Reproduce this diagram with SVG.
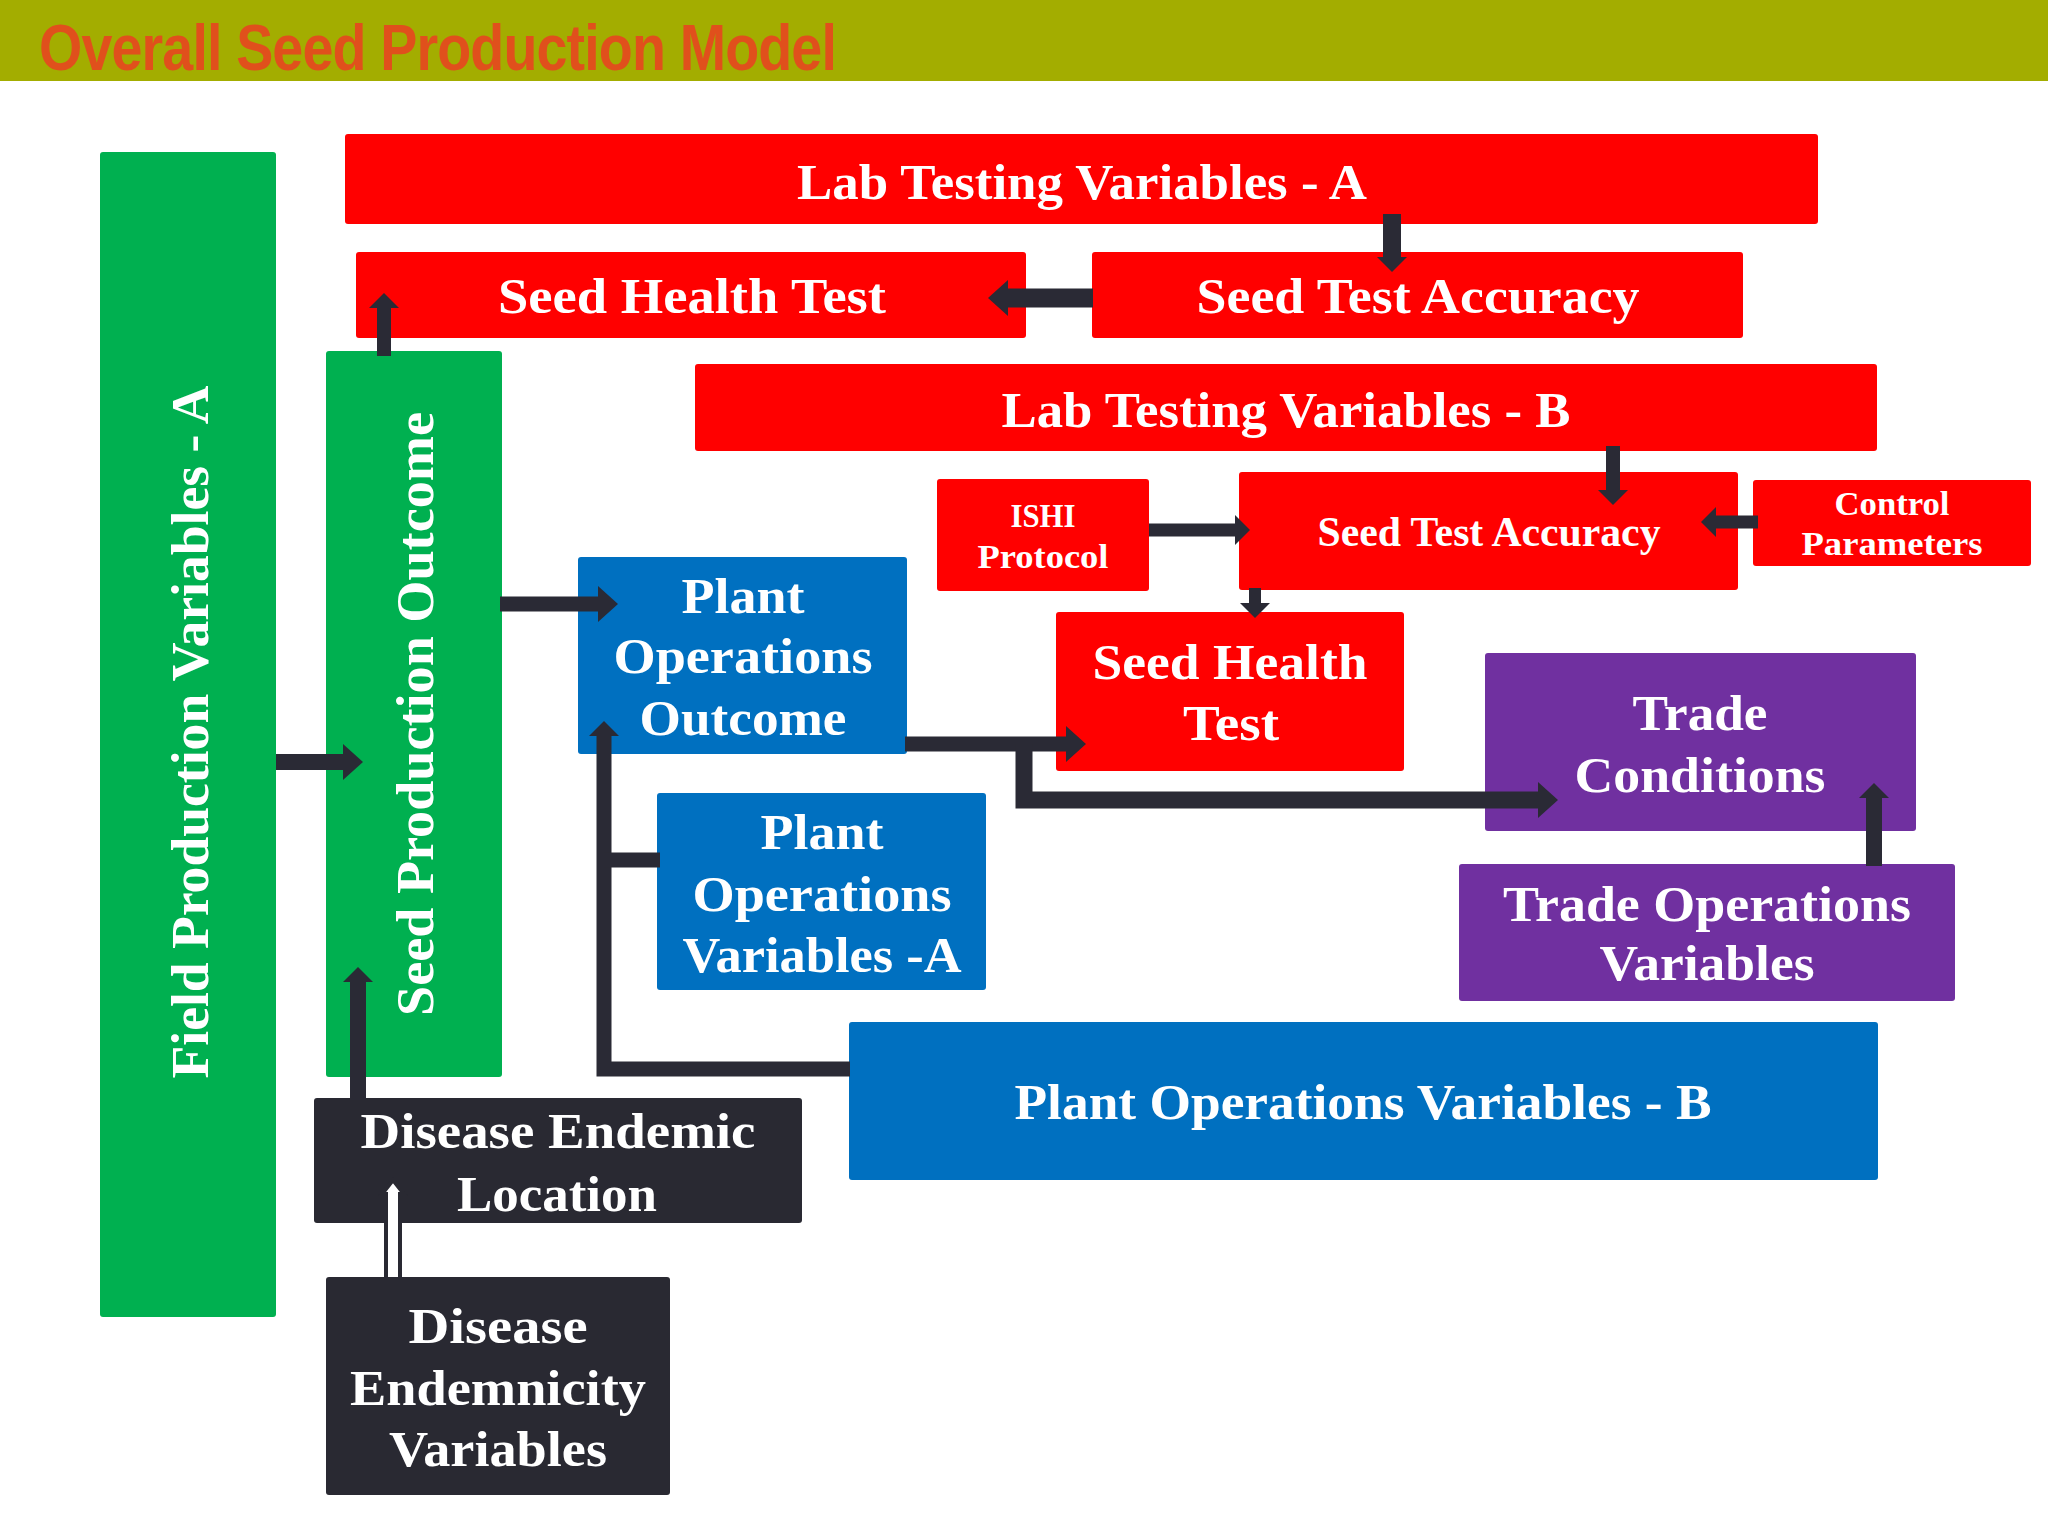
<svg xmlns="http://www.w3.org/2000/svg" width="2048" height="1536" viewBox="0 0 2048 1536">
<style>
.red{fill:#FF0000}
.green{fill:#00B050}
.blue{fill:#0070C0}
.purple{fill:#7030A0}
.dark{fill:#292932}
.t{font-family:'Liberation Serif','DejaVu Serif',serif;font-weight:bold;fill:#FFFFFF;text-anchor:middle}
.t50{font-size:50px}
.t42{font-size:42px}
.t34{font-size:34px}
.t53{font-size:53px}
.title{font-family:'Liberation Sans','Open Sans',sans-serif;font-weight:bold;font-size:64px;fill:#E0501C;letter-spacing:-1px}
.conn{fill:none;stroke:#2A2A35;stroke-linejoin:miter;stroke-linecap:butt}
</style>
<defs>
<marker id="ah" markerUnits="userSpaceOnUse" markerWidth="24" markerHeight="40" refX="1" refY="18" orient="auto">
<path d="M0,0 L20,18 L0,36 z" fill="#2A2A35"/>
</marker>
<marker id="ahs" markerUnits="userSpaceOnUse" markerWidth="20" markerHeight="34" refX="1" refY="15" orient="auto">
<path d="M0,0 L15,15 L0,30 z" fill="#2A2A35"/>
</marker>
</defs>
<rect x="0" y="0" width="2048" height="1536" fill="#FFFFFF"/>
<g id="header">
<rect x="0" y="0" width="2048" height="81" fill="#A3AD00"/>
<text class="title" x="39" y="70" textLength="797" lengthAdjust="spacingAndGlyphs">Overall Seed Production Model</text>
</g>

<g id="field-production-variables-a">
<rect class="green" x="100" y="152" width="176" height="1165" rx="3"/>
<text class="t t53" transform="translate(208,732) rotate(-90)" textLength="693" lengthAdjust="spacingAndGlyphs">Field Production Variables - A</text>
</g>
<g id="seed-production-outcome">
<rect class="green" x="326" y="351" width="176" height="726" rx="3"/>
<text class="t t53" transform="translate(433,714) rotate(-90)" textLength="604" lengthAdjust="spacingAndGlyphs">Seed Production Outcome</text>
</g>
<g id="lab-testing-variables-a">
<rect class="red" x="345" y="134" width="1473" height="90" rx="3"/>
<text class="t t50" x="1082" y="199" textLength="570" lengthAdjust="spacingAndGlyphs">Lab Testing Variables - A</text>
</g>
<g id="seed-health-test-top">
<rect class="red" x="356" y="252" width="670" height="86" rx="3"/>
<text class="t t50" x="692" y="313" textLength="388" lengthAdjust="spacingAndGlyphs">Seed Health Test</text>
</g>
<g id="seed-test-accuracy-top">
<rect class="red" x="1092" y="252" width="651" height="86" rx="3"/>
<text class="t t50" x="1418" y="313" textLength="443" lengthAdjust="spacingAndGlyphs">Seed Test Accuracy</text>
</g>
<g id="lab-testing-variables-b">
<rect class="red" x="695" y="364" width="1182" height="87" rx="3"/>
<text class="t t50" x="1286" y="427" textLength="569" lengthAdjust="spacingAndGlyphs">Lab Testing Variables - B</text>
</g>
<g id="ishi-protocol">
<rect class="red" x="937" y="479" width="212" height="112" rx="3"/>
<text class="t t34" x="1043" y="527" textLength="65" lengthAdjust="spacingAndGlyphs">ISHI</text>
<text class="t t34" x="1043" y="568" textLength="131" lengthAdjust="spacingAndGlyphs">Protocol</text>
</g>
<g id="seed-test-accuracy-mid">
<rect class="red" x="1239" y="472" width="499" height="118" rx="3"/>
<text class="t t42" x="1489" y="546" textLength="343" lengthAdjust="spacingAndGlyphs">Seed Test Accuracy</text>
</g>
<g id="control-parameters">
<rect class="red" x="1753" y="480" width="278" height="86" rx="3"/>
<text class="t t34" x="1892" y="515" textLength="115" lengthAdjust="spacingAndGlyphs">Control</text>
<text class="t t34" x="1892" y="555" textLength="181" lengthAdjust="spacingAndGlyphs">Parameters</text>
</g>
<g id="seed-health-test-mid">
<rect class="red" x="1056" y="612" width="348" height="159" rx="3"/>
<text class="t t50" x="1230" y="679" textLength="275" lengthAdjust="spacingAndGlyphs">Seed Health</text>
<text class="t t50" x="1231" y="740" textLength="96" lengthAdjust="spacingAndGlyphs">Test</text>
</g>
<g id="plant-operations-outcome">
<rect class="blue" x="578" y="557" width="329" height="197" rx="3"/>
<text class="t t50" x="743" y="613" textLength="123" lengthAdjust="spacingAndGlyphs">Plant</text>
<text class="t t50" x="743" y="673" textLength="259" lengthAdjust="spacingAndGlyphs">Operations</text>
<text class="t t50" x="743" y="735" textLength="207" lengthAdjust="spacingAndGlyphs">Outcome</text>
</g>
<g id="plant-operations-variables-a">
<rect class="blue" x="657" y="793" width="329" height="197" rx="3"/>
<text class="t t50" x="822" y="849" textLength="123" lengthAdjust="spacingAndGlyphs">Plant</text>
<text class="t t50" x="822" y="911" textLength="259" lengthAdjust="spacingAndGlyphs">Operations</text>
<text class="t t50" x="822" y="972" textLength="279" lengthAdjust="spacingAndGlyphs">Variables -A</text>
</g>
<g id="plant-operations-variables-b">
<rect class="blue" x="849" y="1022" width="1029" height="158" rx="3"/>
<text class="t t50" x="1363" y="1119" textLength="697" lengthAdjust="spacingAndGlyphs">Plant Operations Variables - B</text>
</g>
<g id="trade-conditions">
<rect class="purple" x="1485" y="653" width="431" height="178" rx="3"/>
<text class="t t50" x="1700" y="730" textLength="135" lengthAdjust="spacingAndGlyphs">Trade</text>
<text class="t t50" x="1700" y="792" textLength="251" lengthAdjust="spacingAndGlyphs">Conditions</text>
</g>
<g id="trade-operations-variables">
<rect class="purple" x="1459" y="864" width="496" height="137" rx="3"/>
<text class="t t50" x="1707" y="921" textLength="408" lengthAdjust="spacingAndGlyphs">Trade Operations</text>
<text class="t t50" x="1707" y="980" textLength="215" lengthAdjust="spacingAndGlyphs">Variables</text>
</g>
<g id="disease-endemic-location">
<rect class="dark" x="314" y="1098" width="488" height="125" rx="3"/>
<text class="t t50" x="558" y="1148" textLength="395" lengthAdjust="spacingAndGlyphs">Disease Endemic</text>
<text class="t t50" x="557" y="1211" textLength="200" lengthAdjust="spacingAndGlyphs">Location</text>
</g>
<g id="disease-endemnicity-variables">
<rect class="dark" x="326" y="1277" width="344" height="218" rx="3"/>
<text class="t t50" x="498" y="1343" textLength="179" lengthAdjust="spacingAndGlyphs">Disease</text>
<text class="t t50" x="498" y="1405" textLength="296" lengthAdjust="spacingAndGlyphs">Endemnicity</text>
<text class="t t50" x="498" y="1466" textLength="218" lengthAdjust="spacingAndGlyphs">Variables</text>
</g>

<g id="connectors">
<path class="conn" d="M1392,214 V258" stroke-width="18" marker-end="url(#ahs)"/>
<path class="conn" d="M1093,298 H1007" stroke-width="19" marker-end="url(#ah)"/>
<path class="conn" d="M384,356 V307" stroke-width="14" marker-end="url(#ahs)"/>
<path class="conn" d="M1613,446 V491" stroke-width="14" marker-end="url(#ahs)"/>
<path class="conn" d="M1758,522 H1715" stroke-width="13" marker-end="url(#ahs)"/>
<path class="conn" d="M1149,530 H1236" stroke-width="13" marker-end="url(#ahs)"/>
<path class="conn" d="M1255,588 V604" stroke-width="12" marker-end="url(#ahs)"/>
<path class="conn" d="M500,604 H599" stroke-width="15" marker-end="url(#ah)"/>
<path class="conn" d="M276,762 H344" stroke-width="16" marker-end="url(#ah)"/>
<path class="conn" d="M905,744 H1067" stroke-width="15" marker-end="url(#ah)"/>
<path class="conn" d="M1024,744 V800 H1539" stroke-width="17" marker-end="url(#ah)"/>
<path class="conn" d="M1874,866 V797" stroke-width="16" marker-end="url(#ahs)"/>
<path class="conn" d="M850,1069 H604 V735" stroke-width="15" marker-end="url(#ahs)"/>
<path class="conn" d="M604,860 H660" stroke-width="15"/>
<path class="conn" d="M358,1100 V981" stroke-width="16" marker-end="url(#ahs)"/>
<path d="M386,1279 V1194 H382 L393,1180 L404,1194 H400 V1279 z" fill="#FFFFFF" stroke="#292932" stroke-width="4"/>
</g>
</svg>
